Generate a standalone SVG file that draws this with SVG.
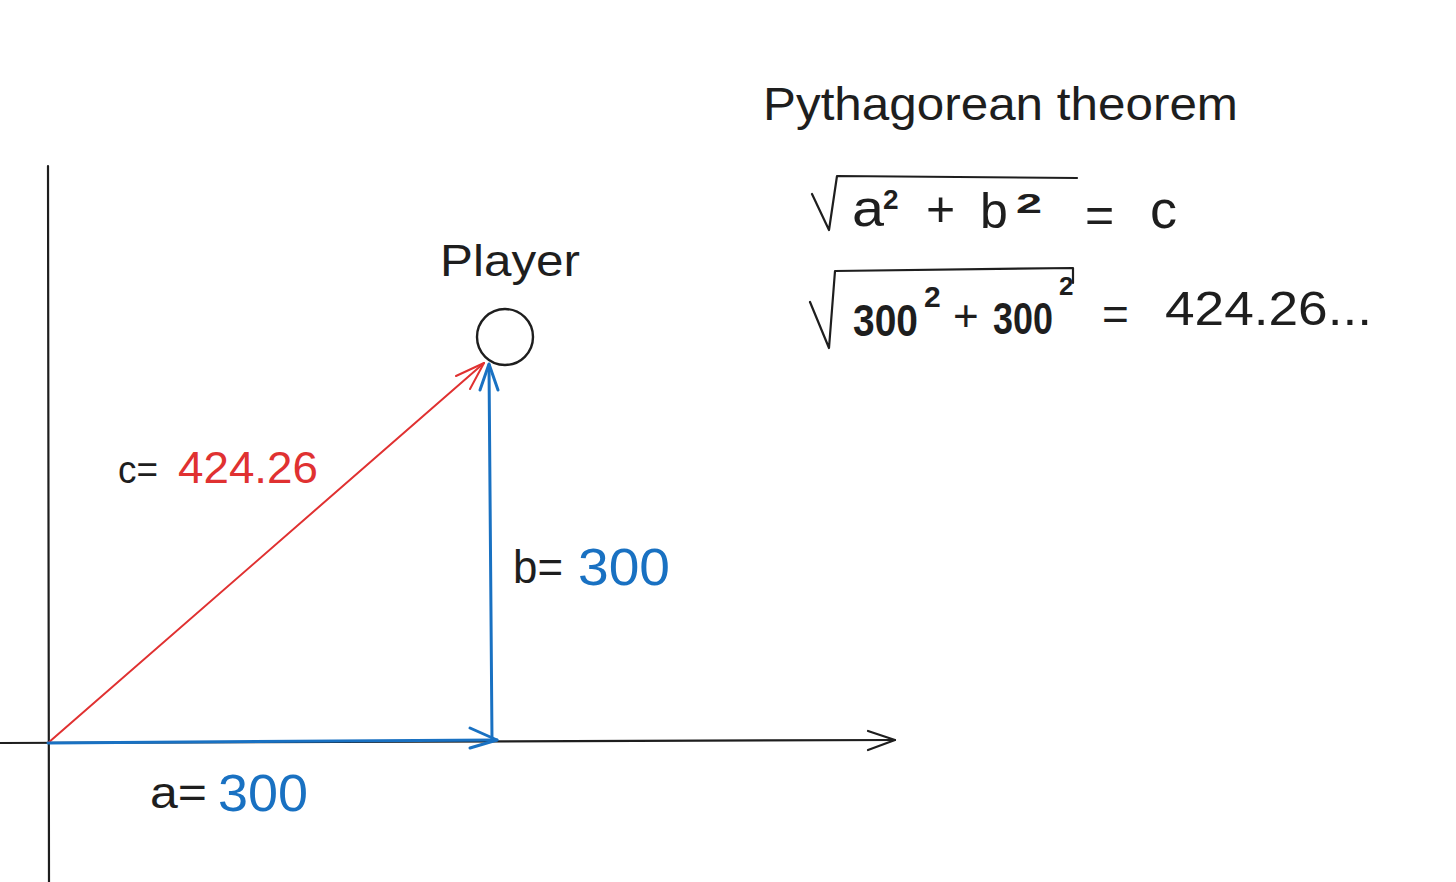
<svg xmlns="http://www.w3.org/2000/svg" width="1456" height="882" viewBox="0 0 1456 882">
<style>
.t{font-family:"Liberation Sans",Arial,sans-serif;fill:#1e1e1e}
.b{font-weight:bold}
.red{fill:#e03131}
.blue{fill:#1971c2}
.ln{fill:none;stroke-linecap:round;stroke-linejoin:round}
.k{stroke:#1e1e1e;stroke-width:2.2}
.r{stroke:#e03131;stroke-width:2}
.bl{stroke:#1971c2;stroke-width:3}
</style>
<rect width="1456" height="882" fill="#ffffff"/>
<g id="axes">
<path class="ln k" d="M48,166 L49,882"/>
<path class="ln k" d="M0,743 L895,740"/>
<path class="ln k" d="M868,731 L895,740 L868,750"/>
</g>
<g id="player">
<circle cx="505" cy="337" r="28" fill="none" stroke="#1e1e1e" stroke-width="2.4"/>
<text class="t" x="440" y="276" font-size="44" textLength="140" lengthAdjust="spacingAndGlyphs">Player</text>
</g>
<g id="connectors">
<g id="vec-c">
<path class="ln r" d="M48,743 L484,363"/>
<path class="ln r" d="M456,376 L484,363 L470,389"/>
</g>
<g id="vec-b">
<path class="ln bl" d="M492,740 L489,365"/>
<path class="ln bl" d="M480,390 L489,364 L498,390"/>
</g>
<g id="vec-a">
<path class="ln bl" d="M48,743 L497,740"/>
<path class="ln bl" d="M470,728 L497,740 L470,748"/>
</g>
</g>
<g id="label-c">
<text class="t" x="118" y="483" font-size="38" textLength="40" lengthAdjust="spacingAndGlyphs">c=</text>
<text class="t red" x="178" y="483" font-size="44" textLength="140" lengthAdjust="spacingAndGlyphs">424.26</text>
</g>
<g id="label-b">
<text class="t" x="513" y="583" font-size="46" textLength="50" lengthAdjust="spacingAndGlyphs">b=</text>
<text class="t blue" x="578" y="585" font-size="52" textLength="92" lengthAdjust="spacingAndGlyphs">300</text>
</g>
<g id="label-a">
<text class="t" x="150" y="808" font-size="44" textLength="57" lengthAdjust="spacingAndGlyphs">a=</text>
<text class="t blue" x="218" y="811" font-size="52" textLength="90" lengthAdjust="spacingAndGlyphs">300</text>
</g>
<g id="title">
<text class="t" x="763" y="120" font-size="46" textLength="475" lengthAdjust="spacingAndGlyphs">Pythagorean theorem</text>
</g>
<g id="formula1">
<path class="ln k" stroke-width="2.6" d="M812,194 L829,230 L837,176 L1077,178"/>
<text class="t" x="852" y="226" font-size="52" textLength="32" lengthAdjust="spacingAndGlyphs">a</text>
<text class="t b" x="883" y="209" font-size="28">2</text>
<text class="t" x="926" y="226" font-size="50">+</text>
<text class="t" x="980" y="228" font-size="50">b</text>
<text class="t b" x="1016" y="213" font-size="28" textLength="26" lengthAdjust="spacingAndGlyphs">2</text>
<text class="t" x="1085" y="232" font-size="50">=</text>
<text class="t" x="1150" y="228" font-size="54">c</text>
</g>
<g id="formula2">
<path class="ln k" stroke-width="2.6" d="M810,302 L829,348 L835,271 L1073,268 L1073,283"/>
<text class="t b" font-size="44" transform="translate(853,336) scale(0.885,1)">300</text>
<text class="t b" x="924" y="307" font-size="30">2</text>
<text class="t" x="953" y="331" font-size="44">+</text>
<text class="t b" font-size="44" transform="translate(993,334) scale(0.817,1)">300</text>
<text class="t b" x="1059" y="295" font-size="26">2</text>
<text class="t" x="1102" y="330" font-size="46">=</text>
<text class="t" x="1165" y="325" font-size="48" textLength="207" lengthAdjust="spacingAndGlyphs">424.26...</text>
</g>
</svg>
